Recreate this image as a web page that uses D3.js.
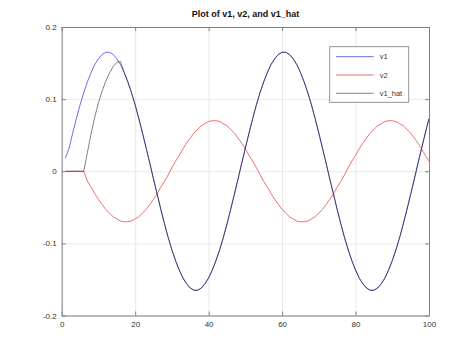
<!DOCTYPE html>
<html>
<head>
<meta charset="utf-8">
<script src="https://cdn.jsdelivr.net/npm/d3@7"></script>
<style>
  html, body { margin: 0; padding: 0; background: #fff; }
  svg { display: block; font-family: "Liberation Sans", Arial, sans-serif; }
</style>
</head>
<body>
<svg id="chart" width="474" height="355"></svg>
<script>
const title = "Plot of v1, v2, and v1_hat";
const seriesNames = ["v1", "v2", "v1_hat"];
const xTicks = [0, 20, 40, 60, 80, 100];
const yTicks = [-0.2, -0.1, 0, 0.1, 0.2];
const yTickLabels = ["-0.2", "-0.1", "0", "0.1", "0.2"];

// sample index 1..100
const xs = d3.range(1, 101);

const v1 = [
  0.018, 0.032, 0.053, 0.073, 0.092, 0.109, 0.124, 0.137, 0.148, 0.156, 0.162, 0.165,
  0.165, 0.162, 0.156, 0.148, 0.137, 0.124, 0.109, 0.092, 0.073, 0.053, 0.032, 0.011,
  -0.011, -0.032, -0.053, -0.073, -0.092, -0.109, -0.124, -0.137, -0.148, -0.156, -0.162, -0.165,
  -0.165, -0.162, -0.156, -0.148, -0.137, -0.124, -0.109, -0.092, -0.073, -0.053, -0.032, -0.011,
  0.011, 0.032, 0.053, 0.073, 0.092, 0.109, 0.124, 0.137, 0.148, 0.156, 0.162, 0.165,
  0.165, 0.162, 0.156, 0.148, 0.137, 0.124, 0.109, 0.092, 0.073, 0.053, 0.032, 0.011,
  -0.011, -0.032, -0.053, -0.073, -0.092, -0.109, -0.124, -0.137, -0.148, -0.156, -0.162, -0.165,
  -0.165, -0.162, -0.156, -0.148, -0.137, -0.124, -0.109, -0.092, -0.073, -0.053, -0.032, -0.011,
  0.011, 0.032, 0.053, 0.073
];

const v2 = [
  0, 0, 0, 0, 0, 0,
  -0.014, -0.022, -0.031, -0.039, -0.046, -0.053, -0.058, -0.063, -0.066, -0.069, -0.070,
  -0.070, -0.069, -0.066, -0.063, -0.058, -0.053, -0.046, -0.039, -0.031, -0.022, -0.014, -0.005,
  0.005, 0.014, 0.022, 0.031, 0.039, 0.046, 0.053, 0.058, 0.063, 0.066, 0.069, 0.070,
  0.070, 0.069, 0.066, 0.063, 0.058, 0.053, 0.046, 0.039, 0.031, 0.022, 0.014, 0.005,
  -0.005, -0.014, -0.022, -0.031, -0.039, -0.046, -0.053, -0.058, -0.063, -0.066, -0.069, -0.070,
  -0.070, -0.069, -0.066, -0.063, -0.058, -0.053, -0.046, -0.039, -0.031, -0.022, -0.014, -0.005,
  0.005, 0.014, 0.022, 0.031, 0.039, 0.046, 0.053, 0.058, 0.063, 0.066, 0.069, 0.070,
  0.070, 0.069, 0.066, 0.063, 0.058, 0.053, 0.046, 0.039, 0.031, 0.022, 0.014
];

const v1_hat = [
  0, 0, 0, 0, 0, 0,
  0.026, 0.052, 0.075, 0.095, 0.111, 0.125, 0.136, 0.145, 0.151, 0.152,
  0.137, 0.124, 0.109, 0.092, 0.073, 0.053, 0.032, 0.011,
  -0.011, -0.032, -0.053, -0.073, -0.092, -0.109, -0.124, -0.137, -0.148, -0.156, -0.162, -0.165,
  -0.165, -0.162, -0.156, -0.148, -0.137, -0.124, -0.109, -0.092, -0.073, -0.053, -0.032, -0.011,
  0.011, 0.032, 0.053, 0.073, 0.092, 0.109, 0.124, 0.137, 0.148, 0.156, 0.162, 0.165,
  0.165, 0.162, 0.156, 0.148, 0.137, 0.124, 0.109, 0.092, 0.073, 0.053, 0.032, 0.011,
  -0.011, -0.032, -0.053, -0.073, -0.092, -0.109, -0.124, -0.137, -0.148, -0.156, -0.162, -0.165,
  -0.165, -0.162, -0.156, -0.148, -0.137, -0.124, -0.109, -0.092, -0.073, -0.053, -0.032, -0.011,
  0.011, 0.032, 0.053, 0.073
];

const colors = { v1: "#5c5ce0", v2: "#f05c5c", v1_hat: "#000000" };

const svg = d3.select("#chart");
const pLeft = 61.7, pRight = 429, pTop = 27, pBottom = 315.5;

const x = d3.scaleLinear().domain([0, 100]).range([pLeft, pRight]);
const y = d3.scaleLinear().domain([-0.2, 0.2]).range([pBottom, pTop]);

// grid
const grid = svg.append("g");
grid.append("g").attr("transform", `translate(0,${pBottom})`)
  .call(d3.axisBottom(x).tickValues(xTicks).tickSize(-(pBottom - pTop)).tickFormat(""))
  .call(g => g.select(".domain").remove())
  .call(g => g.selectAll("line").attr("stroke", "#e3e3e3").attr("stroke-width", 0.8));
grid.append("g").attr("transform", `translate(${pLeft},0)`)
  .call(d3.axisLeft(y).tickValues(yTicks).tickSize(-(pRight - pLeft)).tickFormat(""))
  .call(g => g.select(".domain").remove())
  .call(g => g.selectAll("line").attr("stroke", "#e3e3e3").attr("stroke-width", 0.8));

// lines
const lineGen = d3.line().x((d, i) => x(xs[i])).y(d => y(d));
svg.append("path").datum(v2).attr("fill", "none")
  .attr("stroke", colors.v2).attr("stroke-width", 0.9).attr("d", lineGen);
svg.append("path").datum(v1).attr("fill", "none")
  .attr("stroke", colors.v1).attr("stroke-width", 0.9).attr("d", lineGen);
svg.append("path").datum(v1_hat).attr("fill", "none")
  .attr("stroke", colors.v1_hat).attr("stroke-opacity", 0.55).attr("stroke-width", 0.9).attr("d", lineGen);

// axes (box with inward ticks)
const axisColor = "#808080";
function styleAxis(g) {
  g.select(".domain").attr("stroke", axisColor).attr("stroke-width", 1);
  g.selectAll(".tick line").attr("stroke", axisColor);
  g.selectAll(".tick text").attr("fill", "#333").attr("font-size", "8px")
    .attr("font-family", "Liberation Sans, Arial, sans-serif");
}
svg.append("g").attr("transform", `translate(0,${pBottom})`)
  .call(d3.axisBottom(x).tickValues(xTicks).tickSizeInner(-4).tickSizeOuter(0).tickPadding(6).tickFormat(d3.format("d")))
  .call(styleAxis);
svg.append("g").attr("transform", `translate(0,${pTop})`)
  .call(d3.axisTop(x).tickValues(xTicks).tickSizeInner(-4).tickSizeOuter(0).tickFormat(""))
  .call(styleAxis);
svg.append("g").attr("transform", `translate(${pLeft},0)`)
  .call(d3.axisLeft(y).tickValues(yTicks).tickSizeInner(-4).tickSizeOuter(0).tickPadding(5)
    .tickFormat(d => yTickLabels[yTicks.indexOf(d)]))
  .call(styleAxis);
svg.append("g").attr("transform", `translate(${pRight},0)`)
  .call(d3.axisRight(y).tickValues(yTicks).tickSizeInner(-4).tickSizeOuter(0).tickFormat(""))
  .call(styleAxis);

// title
svg.append("text").attr("x", 245.5).attr("y", 16.5).attr("text-anchor", "middle")
  .attr("font-size", "9px").attr("font-weight", "bold").attr("fill", "#111")
  .text(title);

// legend
const leg = svg.append("g");
leg.append("rect").attr("x", 329.7).attr("y", 46.7).attr("width", 79).attr("height", 55.6)
  .attr("fill", "#fff").attr("stroke", "#888").attr("stroke-width", 0.9);
const legY = [56.7, 75, 93.3];
const legOpacity = { v1: 1, v2: 1, v1_hat: 0.55 };
seriesNames.forEach((name, i) => {
  leg.append("line").attr("x1", 336).attr("x2", 373.7).attr("y1", legY[i]).attr("y2", legY[i])
    .attr("stroke", colors[name]).attr("stroke-opacity", legOpacity[name]).attr("stroke-width", 0.9);
  leg.append("text").attr("x", 379.7).attr("y", legY[i]).attr("dy", "0.35em")
    .attr("font-size", "7.5px").attr("fill", "#333").text(name);
});
</script>
</body>
</html>
